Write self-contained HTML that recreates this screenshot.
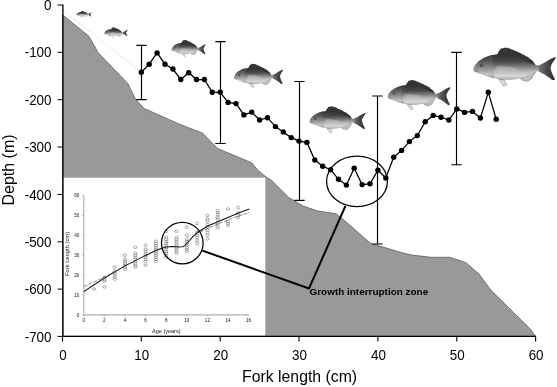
<!DOCTYPE html>
<html><head><meta charset="utf-8"><title>Growth interruption zone</title>
<style>
html,body{margin:0;padding:0;background:#fff;}
svg{display:block;font-family:"Liberation Sans",Arial,sans-serif;}
</style></head><body>
<svg width="557" height="387" viewBox="0 0 557 387">
<defs>
<linearGradient id="fg" x1="0" y1="0" x2="0" y2="1">
<stop offset="0" stop-color="#2e2e2e"/><stop offset="0.3" stop-color="#4a4a4a"/><stop offset="0.5" stop-color="#808080"/><stop offset="0.66" stop-color="#b4b4b4"/><stop offset="0.85" stop-color="#d8d8d8"/><stop offset="0.95" stop-color="#c0c0c0"/><stop offset="1" stop-color="#777"/>
</linearGradient>
<linearGradient id="hg" x1="0" y1="0" x2="0" y2="1">
<stop offset="0" stop-color="#3a3a3a"/><stop offset="0.3" stop-color="#5e5e5e"/><stop offset="0.55" stop-color="#8c8c8c"/><stop offset="0.85" stop-color="#c4c4c4"/><stop offset="1" stop-color="#909090"/>
</linearGradient>
<linearGradient id="tg" x1="0" y1="0" x2="1" y2="0">
<stop offset="0" stop-color="#7a7a7a"/><stop offset="0.5" stop-color="#484848"/><stop offset="1" stop-color="#2c2c2c"/>
</linearGradient>
<g id="fish">
<path d="M390 112 C420 105 455 75 490 62 L500 65 C485 85 470 105 466 126 C470 150 482 175 495 197 L480 202 C460 185 440 168 395 148 Z" fill="url(#tg)"/>
<path d="M146 46 L148 36 L158 22 L169 8 L178 9 L186 4 L194 6 L202 3 L212 8 L222 9 L232 15 L240 17 L252 24 L262 27 L272 33 L282 36 L296 45 L306 48 L318 56 L329 60 L342 72 L352 78 L362 88 L370 100 L377 110 L340 115 L250 85 L146 62 Z" fill="#343434"/>
<path d="M377 150 L350 194 L329 208 L301 203 L282 189 Z" fill="#bdbdbd" stroke="#808080" stroke-width="4"/>
<path d="M155 195 L164 211 L183 237 L202 230 L188 200 Z" fill="#d8d8d8" stroke="#999" stroke-width="4"/>
<path d="M1 136 C5 120 10 112 18 103 C28 90 38 82 51 74 C65 65 80 60 93 55 C110 49 130 46 145 44 C180 42 230 50 282 70 C320 86 350 102 377 110 L396 116 L396 146 L377 150 C350 165 310 182 282 189 C260 195 235 197 216 197 C190 198 170 197 155 195 C135 192 120 188 103 183 C80 176 60 170 46 164 C30 158 18 154 8 150 Z" fill="url(#fg)"/>
<path d="M1 136 C5 120 10 112 18 103 C28 90 38 82 51 74 C65 65 80 60 93 55 C103 52 112 50 122 48 C112 90 108 140 128 189 C118 187 110 185 103 183 C80 176 60 170 46 164 C30 158 18 154 8 150 Z" fill="url(#hg)"/>
<path d="M122 48 C112 90 108 140 128 189" fill="none" stroke="#555" stroke-width="3" opacity="0.4"/>
<path d="M135 120 C180 112 240 118 270 140 C235 165 190 172 150 165 Z" fill="#c8c8c8" opacity="0.45"/>
<circle cx="51" cy="112" r="11" fill="#3a3a3a"/>
<circle cx="51" cy="112" r="5.5" fill="#8a8a8a"/>
<path d="M3 140 C12 146 22 148 30 146" fill="none" stroke="#444" stroke-width="3"/>
</g>
</defs>
<rect width="557" height="387" fill="#fff"/>

<polygon points="62.6,14.9 89.0,36.3 98.0,52.5 127.8,83.5 135.4,99.0 144.2,108.5 180.0,124.4 202.6,133.2 217.7,148.5 251.6,162.8 258.0,170.4 266.7,177.4 271.5,180.3 288.7,197.4 303.0,206.0 317.5,210.9 336.0,213.7 346.0,221.8 360.6,234.7 370.6,243.3 377.8,245.6 392.0,249.7 400.0,252.2 411.4,255.0 431.3,257.3 449.8,257.3 466.0,262.7 479.0,274.0 491.0,290.3 530.8,329.5 535.6,336.4 62.6,336.4" fill="#999" stroke="#5c5c5c" stroke-width="0.8"/>
<line x1="62.6" y1="10" x2="141.3" y2="72.2" stroke="#b0b0b0" stroke-width="0.9" stroke-dasharray="1,2.4"/>
<rect x="63.3" y="177.7" width="202" height="158" fill="#fff"/>
<path d="M62.9 4.5 V337 M62.2 336.3 H536" stroke="#000" stroke-width="1.35" fill="none"/>
<line x1="57.5" y1="5.0" x2="62.6" y2="5.0" stroke="#000" stroke-width="1"/>
<text transform="translate(51.5,10.1) scale(1,1.06)" font-size="13.4" text-anchor="end">0</text>
<line x1="57.5" y1="52.3" x2="62.6" y2="52.3" stroke="#000" stroke-width="1"/>
<text transform="translate(51.5,57.4) scale(1,1.06)" font-size="13.4" text-anchor="end">-100</text>
<line x1="57.5" y1="99.7" x2="62.6" y2="99.7" stroke="#000" stroke-width="1"/>
<text transform="translate(51.5,104.8) scale(1,1.06)" font-size="13.4" text-anchor="end">-200</text>
<line x1="57.5" y1="147.0" x2="62.6" y2="147.0" stroke="#000" stroke-width="1"/>
<text transform="translate(51.5,152.1) scale(1,1.06)" font-size="13.4" text-anchor="end">-300</text>
<line x1="57.5" y1="194.4" x2="62.6" y2="194.4" stroke="#000" stroke-width="1"/>
<text transform="translate(51.5,199.5) scale(1,1.06)" font-size="13.4" text-anchor="end">-400</text>
<line x1="57.5" y1="241.8" x2="62.6" y2="241.8" stroke="#000" stroke-width="1"/>
<text transform="translate(51.5,246.8) scale(1,1.06)" font-size="13.4" text-anchor="end">-500</text>
<line x1="57.5" y1="289.1" x2="62.6" y2="289.1" stroke="#000" stroke-width="1"/>
<text transform="translate(51.5,294.2) scale(1,1.06)" font-size="13.4" text-anchor="end">-600</text>
<line x1="57.5" y1="336.4" x2="62.6" y2="336.4" stroke="#000" stroke-width="1"/>
<text transform="translate(51.5,341.6) scale(1,1.06)" font-size="13.4" text-anchor="end">-700</text>
<line x1="62.5" y1="336.4" x2="62.5" y2="341.6" stroke="#000" stroke-width="1.1"/>
<text transform="translate(63.0,360) scale(1,1.06)" font-size="13.4" text-anchor="middle">0</text>
<line x1="141.3" y1="336.4" x2="141.3" y2="341.6" stroke="#000" stroke-width="1.1"/>
<text transform="translate(141.8,360) scale(1,1.06)" font-size="13.4" text-anchor="middle">10</text>
<line x1="220.2" y1="336.4" x2="220.2" y2="341.6" stroke="#000" stroke-width="1.1"/>
<text transform="translate(220.7,360) scale(1,1.06)" font-size="13.4" text-anchor="middle">20</text>
<line x1="299.0" y1="336.4" x2="299.0" y2="341.6" stroke="#000" stroke-width="1.1"/>
<text transform="translate(299.5,360) scale(1,1.06)" font-size="13.4" text-anchor="middle">30</text>
<line x1="377.9" y1="336.4" x2="377.9" y2="341.6" stroke="#000" stroke-width="1.1"/>
<text transform="translate(378.4,360) scale(1,1.06)" font-size="13.4" text-anchor="middle">40</text>
<line x1="456.8" y1="336.4" x2="456.8" y2="341.6" stroke="#000" stroke-width="1.1"/>
<text transform="translate(457.2,360) scale(1,1.06)" font-size="13.4" text-anchor="middle">50</text>
<line x1="535.6" y1="336.4" x2="535.6" y2="341.6" stroke="#000" stroke-width="1.1"/>
<text transform="translate(536.1,360) scale(1,1.06)" font-size="13.4" text-anchor="middle">60</text>
<text x="299.6" y="381.8" font-size="15.8" text-anchor="middle">Fork length (cm)</text>
<text transform="translate(13.6,170) rotate(-90)" font-size="16" text-anchor="middle">Depth (m)</text>
<path d="M141.5 45.3 V99.6 M136.3 45.3 H146.7 M136.3 99.6 H146.7" stroke="#000" stroke-width="1.15" fill="none"/>
<path d="M220.5 41.6 V143.5 M215.3 41.6 H225.7 M215.3 143.5 H225.7" stroke="#000" stroke-width="1.15" fill="none"/>
<path d="M299.5 81.5 V200.4 M294.3 81.5 H304.7 M294.3 200.4 H304.7" stroke="#000" stroke-width="1.15" fill="none"/>
<path d="M377.5 96.0 V244.0 M372.3 96.0 H382.7 M372.3 244.0 H382.7" stroke="#000" stroke-width="1.15" fill="none"/>
<path d="M456.5 52.3 V164.7 M451.3 52.3 H461.7 M451.3 164.7 H461.7" stroke="#000" stroke-width="1.15" fill="none"/>
<use href="#fish" transform="translate(76.3,10.9) scale(0.0303,0.0273)"/>
<use href="#fish" transform="translate(104.3,27.2) scale(0.0468,0.0450)"/>
<use href="#fish" transform="translate(171.5,39.7) scale(0.0687,0.0723)"/>
<use href="#fish" transform="translate(234.0,63.4) scale(0.0986,0.1025)"/>
<use href="#fish" transform="translate(309.5,105.9) scale(0.1125,0.1147)"/>
<use href="#fish" transform="translate(387.6,79.5) scale(0.1261,0.1269)"/>
<use href="#fish" transform="translate(473.3,46.9) scale(0.1655,0.1655)"/>
<polyline points="141.3,72.2 149.2,64.2 157.1,52.9 165.0,64.2 172.9,69.0 180.8,79.5 188.7,72.7 196.5,79.5 204.4,79.5 212.3,92.3 220.2,92.3 228.1,102.4 236.0,103.6 243.9,114.9 251.7,112.1 259.6,120.0 267.5,117.7 275.4,126.6 283.3,131.9 291.2,137.6 299.0,141.1 306.9,142.4 314.8,160.0 322.7,166.2 330.6,169.7 338.5,179.3 346.4,185.1 354.2,168.2 362.1,184.6 370.0,183.8 377.9,170.3 385.8,178.0 393.7,157.2 401.6,150.4 409.4,141.6 417.3,135.6 425.2,121.8 433.1,115.4 441.0,117.2 448.9,120.0 456.8,108.9 464.6,112.4 472.5,111.4 480.4,118.0 488.3,92.3 496.2,119.2" fill="none" stroke="#000" stroke-width="1.25"/>
<circle cx="141.3" cy="72.2" r="2.7" fill="#000"/>
<circle cx="149.2" cy="64.2" r="2.7" fill="#000"/>
<circle cx="157.1" cy="52.9" r="2.7" fill="#000"/>
<circle cx="165.0" cy="64.2" r="2.7" fill="#000"/>
<circle cx="172.9" cy="69.0" r="2.7" fill="#000"/>
<circle cx="180.8" cy="79.5" r="2.7" fill="#000"/>
<circle cx="188.7" cy="72.7" r="2.7" fill="#000"/>
<circle cx="196.5" cy="79.5" r="2.7" fill="#000"/>
<circle cx="204.4" cy="79.5" r="2.7" fill="#000"/>
<circle cx="212.3" cy="92.3" r="2.7" fill="#000"/>
<circle cx="220.2" cy="92.3" r="2.7" fill="#000"/>
<circle cx="228.1" cy="102.4" r="2.7" fill="#000"/>
<circle cx="236.0" cy="103.6" r="2.7" fill="#000"/>
<circle cx="243.9" cy="114.9" r="2.7" fill="#000"/>
<circle cx="251.7" cy="112.1" r="2.7" fill="#000"/>
<circle cx="259.6" cy="120.0" r="2.7" fill="#000"/>
<circle cx="267.5" cy="117.7" r="2.7" fill="#000"/>
<circle cx="275.4" cy="126.6" r="2.7" fill="#000"/>
<circle cx="283.3" cy="131.9" r="2.7" fill="#000"/>
<circle cx="291.2" cy="137.6" r="2.7" fill="#000"/>
<circle cx="299.0" cy="141.1" r="2.7" fill="#000"/>
<circle cx="306.9" cy="142.4" r="2.7" fill="#000"/>
<circle cx="314.8" cy="160.0" r="2.7" fill="#000"/>
<circle cx="322.7" cy="166.2" r="2.7" fill="#000"/>
<circle cx="330.6" cy="169.7" r="2.7" fill="#000"/>
<circle cx="338.5" cy="179.3" r="2.7" fill="#000"/>
<circle cx="346.4" cy="185.1" r="2.7" fill="#000"/>
<circle cx="354.2" cy="168.2" r="2.7" fill="#000"/>
<circle cx="362.1" cy="184.6" r="2.7" fill="#000"/>
<circle cx="370.0" cy="183.8" r="2.7" fill="#000"/>
<circle cx="377.9" cy="170.3" r="2.7" fill="#000"/>
<circle cx="385.8" cy="178.0" r="2.7" fill="#000"/>
<circle cx="393.7" cy="157.2" r="2.7" fill="#000"/>
<circle cx="401.6" cy="150.4" r="2.7" fill="#000"/>
<circle cx="409.4" cy="141.6" r="2.7" fill="#000"/>
<circle cx="417.3" cy="135.6" r="2.7" fill="#000"/>
<circle cx="425.2" cy="121.8" r="2.7" fill="#000"/>
<circle cx="433.1" cy="115.4" r="2.7" fill="#000"/>
<circle cx="441.0" cy="117.2" r="2.7" fill="#000"/>
<circle cx="448.9" cy="120.0" r="2.7" fill="#000"/>
<circle cx="456.8" cy="108.9" r="2.7" fill="#000"/>
<circle cx="464.6" cy="112.4" r="2.7" fill="#000"/>
<circle cx="472.5" cy="111.4" r="2.7" fill="#000"/>
<circle cx="480.4" cy="118.0" r="2.7" fill="#000"/>
<circle cx="488.3" cy="92.3" r="2.7" fill="#000"/>
<circle cx="496.2" cy="119.2" r="2.7" fill="#000"/>
<ellipse cx="357" cy="181.4" rx="30.4" ry="25.3" fill="none" stroke="#000" stroke-width="1.25"/>
<polyline points="345.4,206 309,288.5 202.4,250.6" fill="none" stroke="#000" stroke-width="2"/>
<text x="309.5" y="295" font-size="9.95" font-weight="bold">Growth interruption zone</text>
<path d="M83.8 195.5 V314.9 H248.6" stroke="#b0b0b0" stroke-width="1.1" fill="none"/>
<line x1="82.1" y1="314.9" x2="83.8" y2="314.9" stroke="#aaa" stroke-width="0.8"/>
<text x="79.4" y="316.6" font-size="4.6" text-anchor="end" fill="#111">0</text>
<line x1="82.1" y1="295.0" x2="83.8" y2="295.0" stroke="#aaa" stroke-width="0.8"/>
<text x="79.4" y="296.7" font-size="4.6" text-anchor="end" fill="#111">10</text>
<line x1="82.1" y1="275.1" x2="83.8" y2="275.1" stroke="#aaa" stroke-width="0.8"/>
<text x="79.4" y="276.8" font-size="4.6" text-anchor="end" fill="#111">20</text>
<line x1="82.1" y1="255.2" x2="83.8" y2="255.2" stroke="#aaa" stroke-width="0.8"/>
<text x="79.4" y="256.9" font-size="4.6" text-anchor="end" fill="#111">30</text>
<line x1="82.1" y1="235.3" x2="83.8" y2="235.3" stroke="#aaa" stroke-width="0.8"/>
<text x="79.4" y="237.0" font-size="4.6" text-anchor="end" fill="#111">40</text>
<line x1="82.1" y1="215.4" x2="83.8" y2="215.4" stroke="#aaa" stroke-width="0.8"/>
<text x="79.4" y="217.1" font-size="4.6" text-anchor="end" fill="#111">50</text>
<line x1="82.1" y1="195.5" x2="83.8" y2="195.5" stroke="#aaa" stroke-width="0.8"/>
<text x="79.4" y="197.2" font-size="4.6" text-anchor="end" fill="#111">60</text>
<line x1="83.8" y1="314.9" x2="83.8" y2="316.6" stroke="#aaa" stroke-width="0.8"/>
<text x="83.8" y="322.4" font-size="4.6" text-anchor="middle" fill="#111">0</text>
<line x1="104.4" y1="314.9" x2="104.4" y2="316.6" stroke="#aaa" stroke-width="0.8"/>
<text x="104.4" y="322.4" font-size="4.6" text-anchor="middle" fill="#111">2</text>
<line x1="125.0" y1="314.9" x2="125.0" y2="316.6" stroke="#aaa" stroke-width="0.8"/>
<text x="125.0" y="322.4" font-size="4.6" text-anchor="middle" fill="#111">4</text>
<line x1="145.6" y1="314.9" x2="145.6" y2="316.6" stroke="#aaa" stroke-width="0.8"/>
<text x="145.6" y="322.4" font-size="4.6" text-anchor="middle" fill="#111">6</text>
<line x1="166.2" y1="314.9" x2="166.2" y2="316.6" stroke="#aaa" stroke-width="0.8"/>
<text x="166.2" y="322.4" font-size="4.6" text-anchor="middle" fill="#111">8</text>
<line x1="186.8" y1="314.9" x2="186.8" y2="316.6" stroke="#aaa" stroke-width="0.8"/>
<text x="186.8" y="322.4" font-size="4.6" text-anchor="middle" fill="#111">10</text>
<line x1="207.4" y1="314.9" x2="207.4" y2="316.6" stroke="#aaa" stroke-width="0.8"/>
<text x="207.4" y="322.4" font-size="4.6" text-anchor="middle" fill="#111">12</text>
<line x1="228.0" y1="314.9" x2="228.0" y2="316.6" stroke="#aaa" stroke-width="0.8"/>
<text x="228.0" y="322.4" font-size="4.6" text-anchor="middle" fill="#111">14</text>
<line x1="248.6" y1="314.9" x2="248.6" y2="316.6" stroke="#aaa" stroke-width="0.8"/>
<text x="248.6" y="322.4" font-size="4.6" text-anchor="middle" fill="#111">16</text>
<text x="166.3" y="332.8" font-size="5.5" text-anchor="middle" fill="#111">Age (years)</text>
<text transform="translate(69.3,254) rotate(-90)" font-size="5.8" text-anchor="middle" fill="#111">Fork Length (cm)</text>
<ellipse cx="94.1" cy="289.0" rx="1.6" ry="1.3" fill="#fff" fill-opacity="0.5" stroke="#5a5a5a" stroke-width="0.5"/>
<ellipse cx="104.4" cy="287.0" rx="1.6" ry="1.3" fill="#fff" fill-opacity="0.5" stroke="#5a5a5a" stroke-width="0.5"/>
<ellipse cx="104.4" cy="281.1" rx="1.6" ry="1.3" fill="#fff" fill-opacity="0.5" stroke="#5a5a5a" stroke-width="0.5"/>
<ellipse cx="104.4" cy="279.1" rx="1.6" ry="1.3" fill="#fff" fill-opacity="0.5" stroke="#5a5a5a" stroke-width="0.5"/>
<ellipse cx="104.4" cy="277.1" rx="1.6" ry="1.3" fill="#fff" fill-opacity="0.5" stroke="#5a5a5a" stroke-width="0.5"/>
<ellipse cx="114.7" cy="279.1" rx="1.6" ry="1.3" fill="#fff" fill-opacity="0.5" stroke="#5a5a5a" stroke-width="0.5"/>
<ellipse cx="114.7" cy="277.1" rx="1.6" ry="1.3" fill="#fff" fill-opacity="0.5" stroke="#5a5a5a" stroke-width="0.5"/>
<ellipse cx="114.7" cy="275.1" rx="1.6" ry="1.3" fill="#fff" fill-opacity="0.5" stroke="#5a5a5a" stroke-width="0.5"/>
<ellipse cx="114.7" cy="273.1" rx="1.6" ry="1.3" fill="#fff" fill-opacity="0.5" stroke="#5a5a5a" stroke-width="0.5"/>
<ellipse cx="114.7" cy="271.1" rx="1.6" ry="1.3" fill="#fff" fill-opacity="0.5" stroke="#5a5a5a" stroke-width="0.5"/>
<ellipse cx="114.7" cy="267.1" rx="1.6" ry="1.3" fill="#fff" fill-opacity="0.5" stroke="#5a5a5a" stroke-width="0.5"/>
<ellipse cx="125.0" cy="269.1" rx="1.6" ry="1.3" fill="#fff" fill-opacity="0.5" stroke="#5a5a5a" stroke-width="0.5"/>
<ellipse cx="125.0" cy="267.1" rx="1.6" ry="1.3" fill="#fff" fill-opacity="0.5" stroke="#5a5a5a" stroke-width="0.5"/>
<ellipse cx="125.0" cy="265.1" rx="1.6" ry="1.3" fill="#fff" fill-opacity="0.5" stroke="#5a5a5a" stroke-width="0.5"/>
<ellipse cx="125.0" cy="263.2" rx="1.6" ry="1.3" fill="#fff" fill-opacity="0.5" stroke="#5a5a5a" stroke-width="0.5"/>
<ellipse cx="125.0" cy="261.2" rx="1.6" ry="1.3" fill="#fff" fill-opacity="0.5" stroke="#5a5a5a" stroke-width="0.5"/>
<ellipse cx="125.0" cy="259.2" rx="1.6" ry="1.3" fill="#fff" fill-opacity="0.5" stroke="#5a5a5a" stroke-width="0.5"/>
<ellipse cx="125.0" cy="255.2" rx="1.6" ry="1.3" fill="#fff" fill-opacity="0.5" stroke="#5a5a5a" stroke-width="0.5"/>
<ellipse cx="135.3" cy="267.1" rx="1.6" ry="1.3" fill="#fff" fill-opacity="0.5" stroke="#5a5a5a" stroke-width="0.5"/>
<ellipse cx="135.3" cy="265.1" rx="1.6" ry="1.3" fill="#fff" fill-opacity="0.5" stroke="#5a5a5a" stroke-width="0.5"/>
<ellipse cx="135.3" cy="263.2" rx="1.6" ry="1.3" fill="#fff" fill-opacity="0.5" stroke="#5a5a5a" stroke-width="0.5"/>
<ellipse cx="135.3" cy="261.2" rx="1.6" ry="1.3" fill="#fff" fill-opacity="0.5" stroke="#5a5a5a" stroke-width="0.5"/>
<ellipse cx="135.3" cy="259.2" rx="1.6" ry="1.3" fill="#fff" fill-opacity="0.5" stroke="#5a5a5a" stroke-width="0.5"/>
<ellipse cx="135.3" cy="257.2" rx="1.6" ry="1.3" fill="#fff" fill-opacity="0.5" stroke="#5a5a5a" stroke-width="0.5"/>
<ellipse cx="135.3" cy="255.2" rx="1.6" ry="1.3" fill="#fff" fill-opacity="0.5" stroke="#5a5a5a" stroke-width="0.5"/>
<ellipse cx="135.3" cy="253.2" rx="1.6" ry="1.3" fill="#fff" fill-opacity="0.5" stroke="#5a5a5a" stroke-width="0.5"/>
<ellipse cx="135.3" cy="247.2" rx="1.6" ry="1.3" fill="#fff" fill-opacity="0.5" stroke="#5a5a5a" stroke-width="0.5"/>
<ellipse cx="145.6" cy="265.1" rx="1.6" ry="1.3" fill="#fff" fill-opacity="0.5" stroke="#5a5a5a" stroke-width="0.5"/>
<ellipse cx="145.6" cy="261.2" rx="1.6" ry="1.3" fill="#fff" fill-opacity="0.5" stroke="#5a5a5a" stroke-width="0.5"/>
<ellipse cx="145.6" cy="259.2" rx="1.6" ry="1.3" fill="#fff" fill-opacity="0.5" stroke="#5a5a5a" stroke-width="0.5"/>
<ellipse cx="145.6" cy="257.2" rx="1.6" ry="1.3" fill="#fff" fill-opacity="0.5" stroke="#5a5a5a" stroke-width="0.5"/>
<ellipse cx="145.6" cy="255.2" rx="1.6" ry="1.3" fill="#fff" fill-opacity="0.5" stroke="#5a5a5a" stroke-width="0.5"/>
<ellipse cx="145.6" cy="253.2" rx="1.6" ry="1.3" fill="#fff" fill-opacity="0.5" stroke="#5a5a5a" stroke-width="0.5"/>
<ellipse cx="145.6" cy="251.2" rx="1.6" ry="1.3" fill="#fff" fill-opacity="0.5" stroke="#5a5a5a" stroke-width="0.5"/>
<ellipse cx="145.6" cy="249.2" rx="1.6" ry="1.3" fill="#fff" fill-opacity="0.5" stroke="#5a5a5a" stroke-width="0.5"/>
<ellipse cx="145.6" cy="245.2" rx="1.6" ry="1.3" fill="#fff" fill-opacity="0.5" stroke="#5a5a5a" stroke-width="0.5"/>
<ellipse cx="155.9" cy="261.2" rx="1.6" ry="1.3" fill="#fff" fill-opacity="0.5" stroke="#5a5a5a" stroke-width="0.5"/>
<ellipse cx="155.9" cy="259.2" rx="1.6" ry="1.3" fill="#fff" fill-opacity="0.5" stroke="#5a5a5a" stroke-width="0.5"/>
<ellipse cx="155.9" cy="257.2" rx="1.6" ry="1.3" fill="#fff" fill-opacity="0.5" stroke="#5a5a5a" stroke-width="0.5"/>
<ellipse cx="155.9" cy="255.2" rx="1.6" ry="1.3" fill="#fff" fill-opacity="0.5" stroke="#5a5a5a" stroke-width="0.5"/>
<ellipse cx="155.9" cy="253.2" rx="1.6" ry="1.3" fill="#fff" fill-opacity="0.5" stroke="#5a5a5a" stroke-width="0.5"/>
<ellipse cx="155.9" cy="251.2" rx="1.6" ry="1.3" fill="#fff" fill-opacity="0.5" stroke="#5a5a5a" stroke-width="0.5"/>
<ellipse cx="155.9" cy="249.2" rx="1.6" ry="1.3" fill="#fff" fill-opacity="0.5" stroke="#5a5a5a" stroke-width="0.5"/>
<ellipse cx="155.9" cy="247.2" rx="1.6" ry="1.3" fill="#fff" fill-opacity="0.5" stroke="#5a5a5a" stroke-width="0.5"/>
<ellipse cx="155.9" cy="245.2" rx="1.6" ry="1.3" fill="#fff" fill-opacity="0.5" stroke="#5a5a5a" stroke-width="0.5"/>
<ellipse cx="155.9" cy="243.3" rx="1.6" ry="1.3" fill="#fff" fill-opacity="0.5" stroke="#5a5a5a" stroke-width="0.5"/>
<ellipse cx="155.9" cy="241.3" rx="1.6" ry="1.3" fill="#fff" fill-opacity="0.5" stroke="#5a5a5a" stroke-width="0.5"/>
<ellipse cx="166.2" cy="257.2" rx="1.6" ry="1.3" fill="#fff" fill-opacity="0.5" stroke="#5a5a5a" stroke-width="0.5"/>
<ellipse cx="166.2" cy="255.2" rx="1.6" ry="1.3" fill="#fff" fill-opacity="0.5" stroke="#5a5a5a" stroke-width="0.5"/>
<ellipse cx="166.2" cy="253.2" rx="1.6" ry="1.3" fill="#fff" fill-opacity="0.5" stroke="#5a5a5a" stroke-width="0.5"/>
<ellipse cx="166.2" cy="251.2" rx="1.6" ry="1.3" fill="#fff" fill-opacity="0.5" stroke="#5a5a5a" stroke-width="0.5"/>
<ellipse cx="166.2" cy="249.2" rx="1.6" ry="1.3" fill="#fff" fill-opacity="0.5" stroke="#5a5a5a" stroke-width="0.5"/>
<ellipse cx="166.2" cy="247.2" rx="1.6" ry="1.3" fill="#fff" fill-opacity="0.5" stroke="#5a5a5a" stroke-width="0.5"/>
<ellipse cx="166.2" cy="245.2" rx="1.6" ry="1.3" fill="#fff" fill-opacity="0.5" stroke="#5a5a5a" stroke-width="0.5"/>
<ellipse cx="166.2" cy="243.3" rx="1.6" ry="1.3" fill="#fff" fill-opacity="0.5" stroke="#5a5a5a" stroke-width="0.5"/>
<ellipse cx="166.2" cy="241.3" rx="1.6" ry="1.3" fill="#fff" fill-opacity="0.5" stroke="#5a5a5a" stroke-width="0.5"/>
<ellipse cx="166.2" cy="239.3" rx="1.6" ry="1.3" fill="#fff" fill-opacity="0.5" stroke="#5a5a5a" stroke-width="0.5"/>
<ellipse cx="166.2" cy="237.3" rx="1.6" ry="1.3" fill="#fff" fill-opacity="0.5" stroke="#5a5a5a" stroke-width="0.5"/>
<ellipse cx="166.2" cy="231.3" rx="1.6" ry="1.3" fill="#fff" fill-opacity="0.5" stroke="#5a5a5a" stroke-width="0.5"/>
<ellipse cx="176.5" cy="253.2" rx="1.6" ry="1.3" fill="#fff" fill-opacity="0.5" stroke="#5a5a5a" stroke-width="0.5"/>
<ellipse cx="176.5" cy="251.2" rx="1.6" ry="1.3" fill="#fff" fill-opacity="0.5" stroke="#5a5a5a" stroke-width="0.5"/>
<ellipse cx="176.5" cy="249.2" rx="1.6" ry="1.3" fill="#fff" fill-opacity="0.5" stroke="#5a5a5a" stroke-width="0.5"/>
<ellipse cx="176.5" cy="247.2" rx="1.6" ry="1.3" fill="#fff" fill-opacity="0.5" stroke="#5a5a5a" stroke-width="0.5"/>
<ellipse cx="176.5" cy="245.2" rx="1.6" ry="1.3" fill="#fff" fill-opacity="0.5" stroke="#5a5a5a" stroke-width="0.5"/>
<ellipse cx="176.5" cy="243.3" rx="1.6" ry="1.3" fill="#fff" fill-opacity="0.5" stroke="#5a5a5a" stroke-width="0.5"/>
<ellipse cx="176.5" cy="241.3" rx="1.6" ry="1.3" fill="#fff" fill-opacity="0.5" stroke="#5a5a5a" stroke-width="0.5"/>
<ellipse cx="176.5" cy="239.3" rx="1.6" ry="1.3" fill="#fff" fill-opacity="0.5" stroke="#5a5a5a" stroke-width="0.5"/>
<ellipse cx="176.5" cy="237.3" rx="1.6" ry="1.3" fill="#fff" fill-opacity="0.5" stroke="#5a5a5a" stroke-width="0.5"/>
<ellipse cx="176.5" cy="231.3" rx="1.6" ry="1.3" fill="#fff" fill-opacity="0.5" stroke="#5a5a5a" stroke-width="0.5"/>
<ellipse cx="186.8" cy="251.2" rx="1.6" ry="1.3" fill="#fff" fill-opacity="0.5" stroke="#5a5a5a" stroke-width="0.5"/>
<ellipse cx="186.8" cy="249.2" rx="1.6" ry="1.3" fill="#fff" fill-opacity="0.5" stroke="#5a5a5a" stroke-width="0.5"/>
<ellipse cx="186.8" cy="247.2" rx="1.6" ry="1.3" fill="#fff" fill-opacity="0.5" stroke="#5a5a5a" stroke-width="0.5"/>
<ellipse cx="186.8" cy="245.2" rx="1.6" ry="1.3" fill="#fff" fill-opacity="0.5" stroke="#5a5a5a" stroke-width="0.5"/>
<ellipse cx="186.8" cy="243.3" rx="1.6" ry="1.3" fill="#fff" fill-opacity="0.5" stroke="#5a5a5a" stroke-width="0.5"/>
<ellipse cx="186.8" cy="241.3" rx="1.6" ry="1.3" fill="#fff" fill-opacity="0.5" stroke="#5a5a5a" stroke-width="0.5"/>
<ellipse cx="186.8" cy="239.3" rx="1.6" ry="1.3" fill="#fff" fill-opacity="0.5" stroke="#5a5a5a" stroke-width="0.5"/>
<ellipse cx="186.8" cy="235.3" rx="1.6" ry="1.3" fill="#fff" fill-opacity="0.5" stroke="#5a5a5a" stroke-width="0.5"/>
<ellipse cx="186.8" cy="227.3" rx="1.6" ry="1.3" fill="#fff" fill-opacity="0.5" stroke="#5a5a5a" stroke-width="0.5"/>
<ellipse cx="197.1" cy="243.3" rx="1.6" ry="1.3" fill="#fff" fill-opacity="0.5" stroke="#5a5a5a" stroke-width="0.5"/>
<ellipse cx="197.1" cy="240.3" rx="1.6" ry="1.3" fill="#fff" fill-opacity="0.5" stroke="#5a5a5a" stroke-width="0.5"/>
<ellipse cx="197.1" cy="237.3" rx="1.6" ry="1.3" fill="#fff" fill-opacity="0.5" stroke="#5a5a5a" stroke-width="0.5"/>
<ellipse cx="197.1" cy="235.3" rx="1.6" ry="1.3" fill="#fff" fill-opacity="0.5" stroke="#5a5a5a" stroke-width="0.5"/>
<ellipse cx="197.1" cy="232.5" rx="1.6" ry="1.3" fill="#fff" fill-opacity="0.5" stroke="#5a5a5a" stroke-width="0.5"/>
<ellipse cx="197.1" cy="223.4" rx="1.6" ry="1.3" fill="#fff" fill-opacity="0.5" stroke="#5a5a5a" stroke-width="0.5"/>
<ellipse cx="207.4" cy="238.9" rx="1.6" ry="1.3" fill="#fff" fill-opacity="0.5" stroke="#5a5a5a" stroke-width="0.5"/>
<ellipse cx="207.4" cy="235.3" rx="1.6" ry="1.3" fill="#fff" fill-opacity="0.5" stroke="#5a5a5a" stroke-width="0.5"/>
<ellipse cx="207.4" cy="232.5" rx="1.6" ry="1.3" fill="#fff" fill-opacity="0.5" stroke="#5a5a5a" stroke-width="0.5"/>
<ellipse cx="207.4" cy="229.9" rx="1.6" ry="1.3" fill="#fff" fill-opacity="0.5" stroke="#5a5a5a" stroke-width="0.5"/>
<ellipse cx="207.4" cy="227.1" rx="1.6" ry="1.3" fill="#fff" fill-opacity="0.5" stroke="#5a5a5a" stroke-width="0.5"/>
<ellipse cx="207.4" cy="224.6" rx="1.6" ry="1.3" fill="#fff" fill-opacity="0.5" stroke="#5a5a5a" stroke-width="0.5"/>
<ellipse cx="207.4" cy="221.2" rx="1.6" ry="1.3" fill="#fff" fill-opacity="0.5" stroke="#5a5a5a" stroke-width="0.5"/>
<ellipse cx="207.4" cy="219.0" rx="1.6" ry="1.3" fill="#fff" fill-opacity="0.5" stroke="#5a5a5a" stroke-width="0.5"/>
<ellipse cx="207.4" cy="215.4" rx="1.6" ry="1.3" fill="#fff" fill-opacity="0.5" stroke="#5a5a5a" stroke-width="0.5"/>
<ellipse cx="217.7" cy="227.7" rx="1.6" ry="1.3" fill="#fff" fill-opacity="0.5" stroke="#5a5a5a" stroke-width="0.5"/>
<ellipse cx="217.7" cy="225.0" rx="1.6" ry="1.3" fill="#fff" fill-opacity="0.5" stroke="#5a5a5a" stroke-width="0.5"/>
<ellipse cx="217.7" cy="222.6" rx="1.6" ry="1.3" fill="#fff" fill-opacity="0.5" stroke="#5a5a5a" stroke-width="0.5"/>
<ellipse cx="217.7" cy="219.0" rx="1.6" ry="1.3" fill="#fff" fill-opacity="0.5" stroke="#5a5a5a" stroke-width="0.5"/>
<ellipse cx="217.7" cy="217.2" rx="1.6" ry="1.3" fill="#fff" fill-opacity="0.5" stroke="#5a5a5a" stroke-width="0.5"/>
<ellipse cx="217.7" cy="214.4" rx="1.6" ry="1.3" fill="#fff" fill-opacity="0.5" stroke="#5a5a5a" stroke-width="0.5"/>
<ellipse cx="217.7" cy="212.6" rx="1.6" ry="1.3" fill="#fff" fill-opacity="0.5" stroke="#5a5a5a" stroke-width="0.5"/>
<ellipse cx="217.7" cy="210.8" rx="1.6" ry="1.3" fill="#fff" fill-opacity="0.5" stroke="#5a5a5a" stroke-width="0.5"/>
<ellipse cx="228.0" cy="225.3" rx="1.6" ry="1.3" fill="#fff" fill-opacity="0.5" stroke="#5a5a5a" stroke-width="0.5"/>
<ellipse cx="228.0" cy="223.6" rx="1.6" ry="1.3" fill="#fff" fill-opacity="0.5" stroke="#5a5a5a" stroke-width="0.5"/>
<ellipse cx="228.0" cy="221.8" rx="1.6" ry="1.3" fill="#fff" fill-opacity="0.5" stroke="#5a5a5a" stroke-width="0.5"/>
<ellipse cx="228.0" cy="209.0" rx="1.6" ry="1.3" fill="#fff" fill-opacity="0.5" stroke="#5a5a5a" stroke-width="0.5"/>
<ellipse cx="238.3" cy="217.6" rx="1.6" ry="1.3" fill="#fff" fill-opacity="0.5" stroke="#5a5a5a" stroke-width="0.5"/>
<ellipse cx="238.3" cy="215.4" rx="1.6" ry="1.3" fill="#fff" fill-opacity="0.5" stroke="#5a5a5a" stroke-width="0.5"/>
<ellipse cx="238.3" cy="213.0" rx="1.6" ry="1.3" fill="#fff" fill-opacity="0.5" stroke="#5a5a5a" stroke-width="0.5"/>
<ellipse cx="238.3" cy="207.6" rx="1.6" ry="1.3" fill="#fff" fill-opacity="0.5" stroke="#5a5a5a" stroke-width="0.5"/>
<polyline points="83.8,286.6 94.1,281.9 104.4,277.1 112.6,272.7" fill="none" stroke="#333" stroke-width="0.55" stroke-dasharray="4,1.2"/>
<polyline points="200.2,232.1 207.4,228.5 217.7,224.0 228.0,220.0 238.3,216.0 249.3,212.6" fill="none" stroke="#333" stroke-width="0.55" stroke-dasharray="4,1.2"/>
<polyline points="83.8,291.6 94.1,284.7 104.4,278.1 114.7,271.9 125.0,265.9 135.3,260.6 145.6,255.4 155.9,250.6 161.1,248.4 166.2,247.0 172.4,246.6 178.6,247.0 182.7,246.8 184.7,245.6 186.8,243.5 192.5,237.1 197.1,232.7 207.4,226.3 217.7,221.8 228.0,217.4 238.3,213.0 249.3,209.0" fill="none" stroke="#111" stroke-width="1.05" stroke-linejoin="round"/>
<circle cx="182.3" cy="243.1" r="20.8" fill="none" stroke="#000" stroke-width="1.25"/>
</svg></body></html>
